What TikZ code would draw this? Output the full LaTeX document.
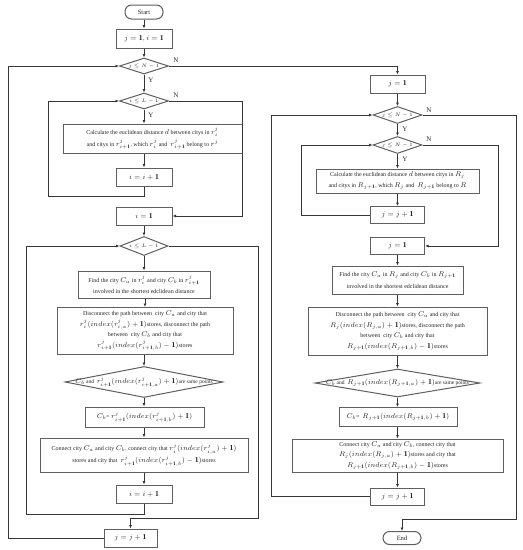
\documentclass[tikz,border=0pt]{standalone}
\usepackage{fontspec}
\setmainfont{Liberation Serif}
\usetikzlibrary{arrows.meta,shapes.geometric}
\definecolor{boxc}{RGB}{95,95,95}
\definecolor{linec}{RGB}{55,55,55}
\definecolor{txt}{RGB}{40,40,40}
\newcommand{\MX}[1]{{\fontsize{7.5}{9}\selectfont$#1$}}
\newcommand{\one}{\mathbf{1}}
\begin{document}
\begin{tikzpicture}[x=1pt,y=-1pt,
 box/.style={draw=boxc,line width=1pt,fill=white,inner sep=0pt,align=center,text=txt,font=\fontsize{6}{10.5}\selectfont},
 wide/.style={font=\fontsize{6}{12}\selectfont},
 term/.style={box,rounded corners=6.5pt,font=\fontsize{6.5}{8}\selectfont},
 dia/.style={draw=boxc,line width=1pt,diamond,inner sep=0pt,fill=white},
 dtext/.style={text=txt,font=\fontsize{5.5}{7}\selectfont,inner sep=0pt},
 lab/.style={text=txt,font=\fontsize{7}{8}\selectfont,inner sep=0pt},
 arr/.style={draw=linec,line width=0.7pt,-{Latex[length=3.5pt,width=3pt]}},
]
\useasboundingbox (0,0) rectangle (523,550);
% ---------------- left column ----------------
\node[term,minimum width=38pt,minimum height=14pt] (start) at (144,12) {Start};
\node[box,minimum width=56pt,minimum height=19pt] (b1) at (144,38.5) {\MX{j=\one,i=\one}};
\node[dia,minimum width=49pt,minimum height=16pt] (d1) at (144,66) {};
\node[dtext] (d1t) at (d1) {$j\le N-1$};
\node[dia,minimum width=49pt,minimum height=16pt] (d2) at (144,101) {};
\node[dtext] (d2t) at (d2) {$i\le L-1$};
\node[box,wide,minimum width=179pt,minimum height=29pt] (calc) at (152.5,138.5) {Calculate the euclidean distance \MX{d} between citys in \MX{r_i^j}\\ and citys in \MX{r_{i+\one}^j}, which \MX{r_i^j} and \ \MX{r_{i+\one}^j} belong to \MX{r^j}};
\node[box,minimum width=56pt,minimum height=18pt] (ii1) at (144,177) {\MX{i=i+\one}};
\node[box,minimum width=56pt,minimum height=18pt] (i1) at (144,216) {\MX{i=\one}};
\node[dia,minimum width=48pt,minimum height=19pt] (d3) at (144,246) {};
\node[dtext] (d3t) at (d3) {$i\le L-1$};
\node[box,font=\fontsize{6}{11.5}\selectfont,minimum width=132pt,minimum height=27pt] (find) at (144,284.5) {Find the city \MX{C_a} in \MX{r_i^j} and city \MX{C_b} in \MX{r_{i+\one}^j}\\ involved in the shortest edclidean distance};
\node[box,minimum width=176pt,minimum height=47pt] (disc) at (145,331) {Disconnect the path between \ city \MX{C_a} and city that\\ \MX{r_i^j(index(r^j_{i,a})+\one)}stores, disconnect the path\\ between \ city \MX{C_b} and city that\\ \MX{r^j_{i+\one}(index(r^j_{i+\one,b})-\one)}stores};
\node[dia,minimum width=158pt,minimum height=31pt] (d4) at (144,382) {};
\node[dtext] (d4t) at (d4) {\MX{C_b} and \ \MX{r^j_{i+\one}(index(r^j_{i+\one,a})+\one)}are same points};
\node[box,minimum width=119pt,minimum height=20pt] (cb) at (144.5,417) {\MX{C_b}= \MX{r^j_{i+\one}(index(r^j_{i+\one,b})+\one)}};
\node[box,wide,minimum width=208pt,minimum height=34pt] (conn) at (144,455) {Connect city \MX{C_a} and city \MX{C_b}, connect city that \MX{r_i^j(index(r^j_{i,a})+\one)}\\ stores and city that \ \MX{r^j_{i+\one}(index(r^j_{i+\one,b})-\one)}stores};
\node[box,minimum width=56pt,minimum height=18pt] (ii2) at (144,494) {\MX{i=i+\one}};
\node[box,minimum width=53pt,minimum height=18pt] (jj) at (130.5,538) {\MX{j=j+\one}};
% ---------------- right column ----------------
\node[box,minimum width=55pt,minimum height=18pt] (j1R) at (397.5,84) {\MX{j=\one}};
\node[dia,minimum width=49pt,minimum height=17pt] (d1R) at (397.5,115) {};
\node[dtext] (d1Rt) at (d1R) {$j\le N-1$};
\node[dia,minimum width=49pt,minimum height=17pt] (d2R) at (397.5,145) {};
\node[dtext] (d2Rt) at (d2R) {$j\le N-1$};
\node[box,font=\fontsize{6}{11}\selectfont,minimum width=163pt,minimum height=24pt] (calcR) at (397.5,181) {Calculate the euclidean distance \MX{d} between citys in \MX{R_j}\\ and citys in \MX{R_{j+\one}}, which \MX{R_j} and \ \MX{R_{j+\one}} belong to \MX{R}};
\node[box,minimum width=54pt,minimum height=17pt] (jjR) at (397.5,215) {\MX{j=j+\one}};
\node[box,minimum width=54pt,minimum height=17pt] (j1bR) at (397.5,246) {\MX{j=\one}};
\node[box,font=\fontsize{6}{11.5}\selectfont,minimum width=131pt,minimum height=28pt] (findR) at (397.5,280) {Find the city \MX{C_a} in \MX{R_j} and city \MX{C_b} in \MX{R_{j+\one}}\\ involved in the shortest edclidean distance};
\node[box,minimum width=179pt,minimum height=48pt] (discR) at (397.5,331) {Disconnect the path between \ city \MX{C_a} and city that\\ \MX{R_j(index(R_{j,a})+\one)}stores, disconnect the path\\ between \ city \MX{C_b} and city that\\ \MX{R_{j+\one}(index(R_{j+\one,b})-\one)}stores};
\node[dia,minimum width=165pt,minimum height=28pt] (d4R) at (397.5,383) {};
\node[dtext] (d4Rt) at (d4R) {\MX{C_b} and \ \MX{R_{j+\one}(index(R_{j+\one,a})+\one)}are same points};
\node[box,minimum width=118pt,minimum height=19pt] (cbR) at (398,417) {\MX{C_b}= \ \MX{R_{j+\one}(index(R_{j+\one,b})+\one)}};
\node[box,minimum width=211pt,minimum height=33pt] (connR) at (397.5,455.5) {Connect city \MX{C_a} and city \MX{C_b}, connect city that\\ \MX{R_j(index(R_{j,a})+\one)}stores and city that\\ \MX{R_{j+\one}(index(R_{j+\one,b})-\one)}stores};
\node[box,minimum width=54pt,minimum height=17pt] (jj2R) at (397.5,496.5) {\MX{j=j+\one}};
\node[term,minimum width=38pt,minimum height=13pt] (endn) at (402,538) {End};
% ---------------- labels ----------------
\node[lab] (n1) at (176,60) {N};
\node[lab] (y1) at (151,80) {Y};
\node[lab] (n2) at (176,95) {N};
\node[lab] (y2) at (151,115) {Y};
\node[lab] (n1R) at (429,110) {N};
\node[lab] (y1R) at (405,129) {Y};
\node[lab] (n2R) at (429,139) {N};
\node[lab] (y2R) at (405,159) {Y};
% ---------------- coordinates ----------------
\coordinate (c1) at (144,196);
\coordinate (c3) at (144,514);
% ---------------- straight arrows ----------------
\draw[arr] (start) -- (b1);
\draw[arr] (b1) -- (d1);
\draw[arr] (d1) -- (d2);
\draw[arr] (d2.south) -- (d2.south |- calc.north);
\draw[arr] (calc.south -| ii1.north) -- (ii1.north);
\draw[arr] (i1) -- (d3);
\draw[arr] (d3) -- (find);
\draw[arr] (find.south -| disc.north) -- (disc.north);
\draw[arr] (disc.south -| d4.north) -- (d4.north);
\draw[arr] (d4.south) -- (d4.south |- cb.north);
\draw[arr] (cb.south -| conn.north) -- (conn.north);
\draw[arr] (conn) -- (ii2);
\draw[arr] (j1R) -- (d1R);
\draw[arr] (d1R) -- (d2R);
\draw[arr] (d2R) -- (calcR);
\draw[arr] (calcR) -- (jjR);
\draw[arr] (j1bR) -- (findR);
\draw[arr] (findR) -- (discR);
\draw[arr] (discR) -- (d4R);
\draw[arr] (d4R.south) -- (d4R.south |- cbR.north);
\draw[arr] (cbR.south -| connR.north) -- (connR.north);
\draw[arr] (connR) -- (jj2R);
% ---------------- loops & branches ----------------
\draw[arr] (ii1.south) -- (c1) -- (48,196) |- (d2.west);
\draw[arr] (d2.east) -- (242,101) |- (i1.east);
\draw[arr] (ii2.south) -- (c3) -- (26,514) |- (d3.west);
\draw[arr] (d3.east) -- (258,246) |- (jj.north |- 0,518) -- (jj.north);
\draw[arr] (jj.west) -- (8,538) |- (d1.west);
\draw[arr] (d1.east) -| (j1R.north);
\draw[arr] (d2R.east) -- (498,145) |- (j1bR.east);
\draw[arr] (jjR.west) -- (301,215) |- (d2R.west);
\draw[arr] (jj2R.west) -- (271,496.5) |- (d1R.west);
\draw[arr] (d1R.east) -- (516,115) |- (endn.north |- 0,519) -- (endn.north);
\end{tikzpicture}
\end{document}
